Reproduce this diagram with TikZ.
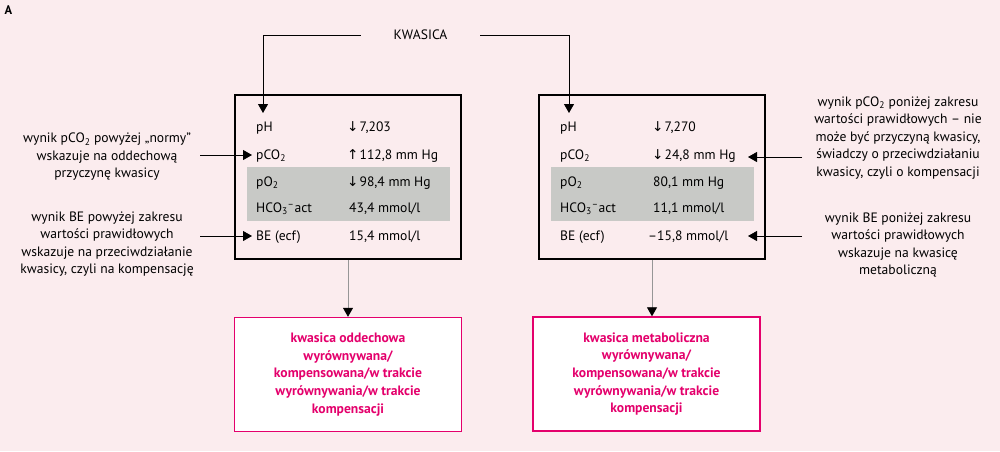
\documentclass[tikz,border=0pt]{standalone}
\usepackage{fontspec}
\setmainfont{PT Sans}
\newfontfamily\arrfont{DejaVu Sans}
\usetikzlibrary{arrows.meta}
\definecolor{bg}{RGB}{251,236,238}
\definecolor{band}{RGB}{200,201,198}
\definecolor{mag}{RGB}{228,0,108}
\definecolor{lgray}{RGB}{150,150,150}
\newcommand{\dn}{{\arrfont\fontsize{13.6}{14}\selectfont↓}\hspace{1pt}}
\newcommand{\up}{{\arrfont\fontsize{13.6}{14}\selectfont↑}\hspace{1pt}}
\begin{document}
\begin{tikzpicture}[x=1pt,y=-1pt,
  every node/.style={font=\fontsize{13.6}{17.5}\selectfont, inner sep=0pt},
  databox/.style={draw=black, line width=2pt, minimum width=226pt, minimum height=164pt},
  bandbox/.style={fill=band, minimum width=203pt, minimum height=54pt},
  resbox/.style={draw=mag, fill=white, line width=1.4pt, minimum width=227pt, minimum height=114pt, text=mag, align=center, font=\fontsize{13.6}{17.7}\selectfont\bfseries},
  note/.style={align=center, text=black},
  lbl/.style={anchor=base west},
  arr/.style={-{Triangle[width=10pt,length=9pt]}, line width=0.8pt},
  garr/.style={draw=lgray, line width=0.8pt, -{Triangle[width=10pt,length=9pt,color=black]}}
]
\fill[bg] (0,0) rectangle (1000,451);
\useasboundingbox (0,0) rectangle (1000,451);

\node[font=\fontsize{12.5}{14}\selectfont\bfseries] (A) at (8.5,10) {A};

% data boxes
\node[databox] (boxL) at (348,177) {};
\node[databox] (boxR) at (652,177) {};
\node[bandbox] (bandL) at (348.5,194) {};
\node[bandbox] (bandR) at (652,194) {};

% left rows
\node[lbl] (Lph) at (256,131.5) {pH};
\node[lbl] (Lpco) at (256,159.5) {pCO\textsubscript{2}};
\node[lbl] (Lpo) at (256,186.5) {pO\textsubscript{2}};
\node[lbl] (Lhco) at (256,212.5) {HCO\textsubscript{3}\textsuperscript{–}act};
\node[lbl] (Lbe) at (256,240.5) {BE (ecf)};
\node[lbl] (Lvph) at (347,131.5) {\dn7,203};
\node[lbl] (Lvpco) at (347,159.5) {\up112,8 mm Hg};
\node[lbl] (Lvpo) at (347,186.5) {\dn98,4 mm Hg};
\node[lbl] (Lvhco) at (349,212.5) {43,4 mmol/l};
\node[lbl] (Lvbe) at (349,240.5) {15,4 mmol/l};

% right rows
\node[lbl] (Rph) at (560,131.5) {pH};
\node[lbl] (Rpco) at (560,159.5) {pCO\textsubscript{2}};
\node[lbl] (Rpo) at (560,186.5) {pO\textsubscript{2}};
\node[lbl] (Rhco) at (560,212.5) {HCO\textsubscript{3}\textsuperscript{–}act};
\node[lbl] (Rbe) at (560,240.5) {BE (ecf)};
\node[lbl] (Rvph) at (652,131.5) {\dn7,270};
\node[lbl] (Rvpco) at (652,159.5) {\dn24,8 mm Hg};
\node[lbl] (Rvpo) at (653,186.5) {80,1 mm Hg};
\node[lbl] (Rvhco) at (653,212.5) {11,1 mmol/l};
\node[lbl] (Rvbe) at (648,240.5) {–15,8 mmol/l};

% top
\node[minimum width=119pt] (kw) at (420.5,35) {KWASICA};
\coordinate (tipL) at (263,113);
\coordinate (tipR) at (569,113);
\draw[arr] (kw.west) -| (tipL);
\draw[arr] (kw.east) -| (tipR);

% left notes
\node[note] (nL1) at (107,157) {wynik pCO\textsubscript{2} powyżej „normy”\\wskazuje na oddechową\\przyczynę kwasicy};
\node[note] (nL2) at (107,244) {wynik BE powyżej zakresu\\wartości prawidłowych\\wskazuje na przeciwdziałanie\\kwasicy, czyli na kompensację};
\coordinate (sL1) at (200,155);
\coordinate (eL1) at (252,155);
\coordinate (sL2) at (200,236);
\coordinate (eL2) at (252,236);
\draw[arr] (sL1) -- (eL1);
\draw[arr] (sL2) -- (eL2);

% right notes
\node[note] (nR1) at (898,138) {wynik pCO\textsubscript{2} poniżej zakresu\\wartości prawidłowych – nie\\może być przyczyną kwasicy,\\świadczy o przeciwdziałaniu\\kwasicy, czyli o kompensacji};
\node[note] (nR2) at (898,245) {wynik BE poniżej zakresu\\wartości prawidłowych\\wskazuje na kwasicę\\metaboliczną};
\coordinate (sR1) at (802,157);
\coordinate (eR1) at (748,157);
\coordinate (sR2) at (802,236);
\coordinate (eR2) at (748,236);
\draw[arr] (sR1) -- (eR1);
\draw[arr] (sR2) -- (eR2);

% results
\node[resbox] (resL) at (348,374.5) {kwasica oddechowa\\wyrównywana/\\kompensowana/w trakcie\\wyrównywania/w trakcie\\kompensacji};
\node[resbox] (resR) at (646.5,374) {kwasica metaboliczna\\wyrównywana/\\kompensowana/w trakcie\\wyrównywania/w trakcie\\kompensacji};
\draw[garr] (boxL.south) -- (resL.north);
\draw[garr] (boxR.south) -- (boxR.south |- resR.north);
\end{tikzpicture}
\end{document}
